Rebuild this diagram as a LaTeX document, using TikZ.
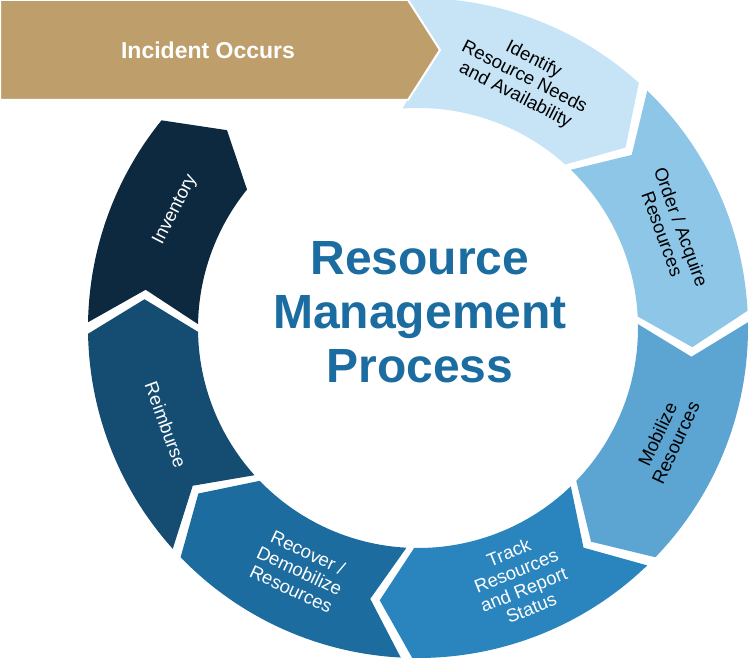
\documentclass[tikz,border=0pt]{standalone}
\usepackage{fontspec}
\setmainfont{Liberation Sans}
\begin{document}
\begin{tikzpicture}[x=1pt,y=1pt,
  lbl/.style={font=\fontsize{18.5}{20}\selectfont, align=center, text=white},
  lbldark/.style={font=\fontsize{18.5}{20}\selectfont, align=center, text=black}]
\definecolor{cA}{HTML}{C6E4F6}
\definecolor{cB}{HTML}{8DC6E7}
\definecolor{cC}{HTML}{5CA4D2}
\definecolor{cD}{HTML}{2A85BE}
\definecolor{cE}{HTML}{1C6C9F}
\definecolor{cF}{HTML}{144D71}
\definecolor{cG}{HTML}{0C2940}
\definecolor{tan}{HTML}{BE9F6B}
\definecolor{ttl}{HTML}{1B6CA0}
\useasboundingbox (0,0) rectangle (750,-658);
\coordinate (C) at (418,-328);
\newcommand{\seg}[3]{%
  \fill[#3,shift={(C)}] (#1-1:330) arc[start angle=#1-1,end angle=#2+1,radius=330]
   -- (#2-6:275) -- (#2+1:220) arc[start angle=#2+1,end angle=#1-1,radius=220]
   -- (#1-8:275) -- cycle;}
\seg{95}{47}{cA}
\seg{47}{2}{cB}
\seg{2}{-45}{cC}
\seg{-45}{-92}{cD}
\seg{-92}{-137}{cE}
\seg{-137}{-180}{cF}
\seg{180}{140}{cG}
\fill[tan,draw=white,line width=2pt] (0,0) -- (408,0) -- (440,-50) -- (408,-100) -- (0,-100) -- cycle;
\node[font=\fontsize{23}{26}\selectfont\bfseries,text=white] (inc) at (208,-50) {Incident Occurs};
\node[font=\fontsize{48}{54}\selectfont\bfseries,text=ttl,align=center] (title) at (420,-312) {Resource\\Management\\Process};
\node[lbldark,rotate=-27] (n1) at ([shift={(C)}]67:272) {Identify\\Resource Needs\\and Availability};
\node[lbldark,rotate=-70] (n2) at ([shift={(C)}]21:272) {Order / Acquire\\Resources};
\node[lbldark,rotate=65] (n3) at ([shift={(C)}]-24:272) {Mobilize\\Resources};
\node[lbl,rotate=22] (n4) at ([shift={(C)}]-68:272) {Track\\Resources\\and Report\\Status};
\node[lbl,rotate=-25] (n5) at ([shift={(C)}]-116:270) {Recover /\\Demobilize\\Resources};
\node[lbl,rotate=-70] (n6) at ([shift={(C)}]-159:270) {Reimburse};
\node[lbl,rotate=63] (n7) at ([shift={(C)}]154:270) {Inventory};
\end{tikzpicture}
\end{document}
